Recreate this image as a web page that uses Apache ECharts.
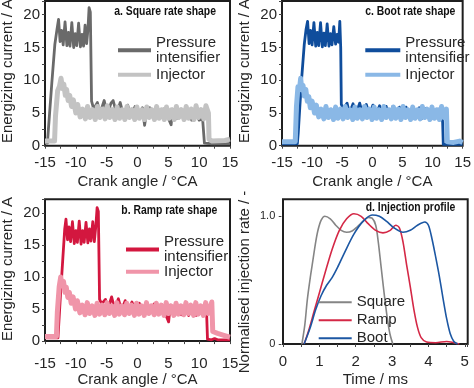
<!DOCTYPE html>
<html><head><meta charset="utf-8">
<script src="https://cdn.jsdelivr.net/npm/echarts@6/dist/echarts.min.js"></script>
<style>html,body{margin:0;padding:0;background:#fff}#c{width:474px;height:388px}</style>
</head><body><div id="c"></div>
<script>
// ---- Data ----
const crankTicks = [-15, -10, -5, 0, 5, 10, 15];
const currentTicks = [0, 5, 10, 15, 20];
const timeTicks = [0, 1, 2, 3, 4, 5];

// a. Square rate shape  [crank angle °CA, current A]
const squarePressure = [[-15,0.4],[-14.6,0.4],[-14.45,2.5],[-13.9,9.5],[-13.4,15.5],[-13.05,17.8],[-12.8,19.3],[-12.55,15.9],[-12.3,17.6],[-12.05,15.4],[-11.75,18.9],[-11.45,15.3],[-11.2,17.3],[-10.95,15.2],[-10.65,18.8],[-10.35,15.0],[-10.1,17.1],[-9.85,15.3],[-9.55,18.7],[-9.25,15.1],[-9.0,17.0],[-8.75,15.2],[-8.5,18.4],[-8.25,15.6],[-8.05,17.6],[-7.85,21.1],[-7.65,20.4],[-7.45,6.8],[-7.1,5.6],[-6.5,6.6],[-6.1,4.9],[-5.4,6.9],[-4.9,4.8],[-4.3,6.5],[-3.95,6.9],[-3.4,4.9],[-2.8,6.6],[-2.3,4.7],[-1.6,6.2],[-1.0,4.6],[-0.4,6.0],[0.2,4.5],[0.8,5.8],[1.15,3.1],[1.35,4.4],[2.0,5.8],[2.6,4.3],[3.2,5.8],[3.8,4.3],[4.4,5.7],[5.0,4.2],[5.45,3.2],[5.7,5.6],[6.4,4.2],[7.0,5.5],[7.6,4.0],[8.2,5.4],[8.8,3.9],[9.4,5.3],[10.0,3.9],[10.55,4.2],[10.7,3.9],[10.85,0.4],[12,0.3],[15,0.3]];
const squareInjector = [[-15,0.7],[-13.45,0.7],[-13.3,4.5],[-12.95,8.4],[-12.65,9.1],[-12.4,10.3],[-12.15,8.7],[-11.95,9.4],[-11.7,7.7],[-11.5,8.6],[-11.25,6.9],[-11.0,7.7],[-10.7,6.0],[-10.4,7.0],[-10.0,5.0],
  [-9.7,6.3],[-9.3,4.4],[-8.9,5.6],[-8.45,4.1],[-8.1,6.0],[-7.7,4.3],[-7.3,5.5],[-6.85,4.0],[-6.5,6.0],[-6.1,4.3],[-5.7,5.6],[-5.25,4.1],[-4.9,6.1],[-4.5,4.3],[-4.1,5.5],[-3.65,4.0],[-3.3,5.9],[-2.9,4.2],[-2.5,5.5],[-2.05,4.0],[-1.7,6.0],[-1.3,4.3],[-0.9,5.5],[-0.45,4.0],[-0.1,5.9],[0.3,4.2],[0.7,5.5],[1.15,4.0],[1.5,5.9],[1.9,4.3],[2.3,5.5],[2.75,4.0],[3.1,6.0],[3.5,4.2],[3.9,5.5],[4.35,4.0],[4.7,5.9],[5.1,4.2],[5.5,5.5],[5.95,4.0],[6.3,6.0],[6.7,4.3],[7.1,5.5],[7.55,4.0],[7.9,6.0],[8.3,4.2],[8.7,5.6],[9.15,4.0],[9.5,6.1],[9.9,4.3],[10.3,5.5],[10.75,4.1],[11.1,6.1],[11.5,5.0],[11.6,1.0],[12.1,0.7],[14.2,0.8],[15,1.0]];

// b. Ramp rate shape
const rampPressure = [[-15,0.5],[-12.9,0.5],[-12.5,7.0],[-12.1,13.0],[-11.8,17.5],[-11.6,19.0],[-11.35,15.8],[-11.1,17.8],[-10.85,15.5],[-10.55,18.6],[-10.25,15.2],[-10.0,17.2],[-9.75,15.4],[-9.45,18.7],[-9.15,15.1],[-8.9,17.2],[-8.65,15.4],[-8.35,18.5],[-8.05,15.3],[-7.8,17.5],[-7.55,15.6],[-7.25,18.6],[-7.0,15.5],[-6.75,18.0],[-6.55,20.8],[-6.35,20.2],[-6.15,6.5],[-5.8,5.8],[-5.2,6.5],[-4.8,5.0],[-4.2,6.9],[-3.7,5.0],[-3.1,6.6],[-2.6,4.8],[-2.0,6.3],[-1.5,4.7],[-0.9,6.1],[-0.3,4.6],[0.3,5.9],[0.9,4.5],[1.5,5.8],[2.1,4.4],[2.7,5.8],[3.3,4.3],[3.9,5.7],[4.5,4.3],[5.05,3.0],[5.3,5.6],[5.9,4.2],[6.5,5.6],[7.1,4.1],[7.7,5.5],[8.3,4.0],[8.9,5.5],[9.5,4.0],[10.1,5.4],[10.7,4.0],[11.2,4.6],[11.35,0.3],[12.0,0.2],[12.5,0.4],[13.0,0.2],[15,0.2]];
const rampInjector = [[-15,0.7],[-13.15,0.7],[-13.0,4.5],[-12.7,8.5],[-12.45,10.0],[-12.2,8.6],[-12.0,9.3],[-11.75,7.6],[-11.55,8.4],[-11.3,6.8],[-11.05,7.6],[-10.75,5.9],[-10.45,6.9],[-10.05,5.0],
  [-9.75,6.3],[-9.35,4.4],[-8.95,5.6],[-8.5,4.1],[-8.15,6.0],[-7.75,4.3],[-7.35,5.5],[-6.9,4.0],[-6.55,5.9],[-6.15,4.2],[-5.75,5.6],[-5.3,4.1],[-4.95,6.0],[-4.55,4.3],[-4.15,5.5],[-3.7,4.0],[-3.35,6.0],[-2.95,4.2],[-2.55,5.5],[-2.1,4.1],[-1.75,5.9],[-1.35,4.3],[-0.95,5.6],[-0.5,4.0],[-0.15,5.9],[0.25,4.2],[0.65,5.5],[1.1,4.0],[1.45,6.0],[1.85,4.3],[2.25,5.5],[2.7,4.1],[3.05,5.9],[3.45,4.2],[3.85,5.6],[4.3,4.0],[4.65,6.0],[5.05,4.3],[5.45,5.5],[5.9,4.0],[6.25,5.9],[6.65,4.2],[7.05,5.5],[7.5,4.1],[7.85,6.0],[8.25,4.3],[8.65,5.6],[9.1,4.0],[9.45,6.0],[9.85,4.2],[10.25,5.5],[10.7,4.0],[11.05,6.0],[11.45,4.3],[11.85,5.4],[12.05,6.1],[12.2,1.5],[13.0,1.2],[14.0,0.9],[15,0.6]];

// c. Boot rate shape
const bootPressure = [[-15,0.3],[-12.45,0.3],[-12.3,2.0],[-11.8,9.5],[-11.3,15.5],[-11.0,17.8],[-10.75,19.0],[-10.5,15.6],[-10.25,17.6],[-10.0,15.4],[-9.7,18.8],[-9.4,15.2],[-9.15,17.3],[-8.9,15.3],[-8.6,18.8],[-8.3,15.1],[-8.05,17.2],[-7.8,15.3],[-7.5,18.6],[-7.2,15.2],[-6.95,17.1],[-6.7,15.4],[-6.4,18.2],[-6.1,15.5],[-5.85,17.0],[-5.6,15.8],[-5.4,19.0],[-5.25,15.0],[-5.15,6.3],[-4.8,5.6],[-4.2,6.5],[-3.8,5.0],[-3.2,6.4],[-2.7,4.9],[-2.1,6.5],[-1.6,4.8],[-1.0,6.3],[-0.5,4.7],[0.1,6.2],[0.6,4.6],[1.2,6.1],[1.7,4.5],[2.3,6.0],[2.8,4.5],[3.4,6.0],[3.9,4.4],[4.5,5.9],[5.0,4.4],[5.6,5.9],[6.1,4.3],[6.7,5.8],[7.2,4.3],[7.8,5.8],[8.3,4.2],[8.9,5.7],[9.4,4.2],[10.0,5.7],[10.5,4.2],[11.1,5.6],[11.6,4.4],[11.68,3.5],[11.78,0.2],[15,0.2]];
const bootInjector = [[-15,0.6],[-12.8,0.6],[-12.6,6.0],[-12.35,9.0],[-12.1,8.6],[-11.9,10.3],[-11.7,8.5],[-11.5,9.2],[-11.3,7.6],[-11.05,8.6],[-10.8,6.8],[-10.55,7.5],[-10.3,5.8],[-10.0,6.8],[-9.6,5.0],
  [-9.3,6.2],[-8.9,4.4],[-8.5,5.6],[-8.05,4.1],[-7.7,6.0],[-7.3,4.3],[-6.9,5.5],[-6.45,4.0],[-6.1,5.9],[-5.7,4.2],[-5.3,5.6],[-4.85,4.1],[-4.5,6.0],[-4.1,4.3],[-3.7,5.5],[-3.25,4.0],[-2.9,5.9],[-2.5,4.2],[-2.1,5.5],[-1.65,4.1],[-1.3,6.0],[-0.9,4.3],[-0.5,5.6],[-0.05,4.0],[0.3,5.9],[0.7,4.2],[1.1,5.5],[1.55,4.0],[1.9,6.0],[2.3,4.3],[2.7,5.5],[3.15,4.1],[3.5,5.9],[3.9,4.2],[4.3,5.6],[4.75,4.0],[5.1,6.0],[5.5,4.3],[5.9,5.5],[6.35,4.0],[6.7,5.9],[7.1,4.2],[7.5,5.5],[7.95,4.1],[8.3,6.0],[8.7,4.3],[9.1,5.6],[9.55,4.0],[9.9,5.9],[10.3,4.2],[10.7,5.5],[11.15,4.0],[11.5,6.0],[11.9,4.3],[12.3,5.6],[12.45,0.6],[13.5,0.5],[14.5,0.7],[15,0.5]];

// d. Injection profile  [time ms, normalised rate]
const squareRate = [[0.52,0],[0.6,0.15],[0.67,0.35],[0.75,0.52],[0.82,0.65],[0.9,0.8],[0.97,0.9],[1.05,0.97],[1.15,1.0],[1.3,0.98],[1.45,0.93],[1.6,0.89],[1.75,0.875],[1.9,0.885],[2.05,0.92],[2.2,0.96],[2.35,0.99],[2.45,0.985],[2.55,0.93],[2.62,0.8],[2.7,0.6],[2.78,0.4],[2.86,0.22],[2.94,0.08],[3.02,0]];
const rampRate = [[0.58,0],[0.7,0.1],[0.85,0.25],[1.0,0.4],[1.15,0.55],[1.35,0.74],[1.55,0.89],[1.75,0.98],[1.95,1.02],[2.15,1.0],[2.35,0.94],[2.55,0.89],[2.75,0.87],[2.95,0.89],[3.1,0.93],[3.2,0.91],[3.3,0.8],[3.4,0.62],[3.5,0.45],[3.6,0.27],[3.7,0.13],[3.8,0.05],[3.95,0.015],[4.2,0.01],[4.5,0.02],[4.7,0.01],[4.85,0]];
const bootRate = [[0.58,0],[0.75,0.13],[0.9,0.27],[1.05,0.38],[1.2,0.46],[1.35,0.52],[1.5,0.6],[1.7,0.72],[1.95,0.86],[2.2,0.96],[2.45,1.01],[2.65,1.0],[2.85,0.96],[3.05,0.91],[3.3,0.875],[3.5,0.89],[3.7,0.93],[3.9,0.955],[4.0,0.93],[4.1,0.82],[4.2,0.68],[4.3,0.53],[4.4,0.36],[4.5,0.2],[4.6,0.08],[4.7,0.02],[4.8,0]];

const panelTitles = ['a. Square rate shape', 'b. Ramp rate shape', 'c. Boot rate shape', 'd. Injection profile'];
const legendLabels = {
  aPI: 'Pressure\nintensifier', aInj: 'Injector',
  bPI: 'Pressure\nintensifier', bInj: 'Injector',
  cPI: 'Pressure\nintensifier', cInj: 'Injector',
  dSq: 'Square', dRa: 'Ramp', dBo: 'Boot'
};

// ---- Styling / layout ----
const FONT = "Liberation Sans, Arial, Helvetica, sans-serif";
const TXT = '#262626';
const grids = [
  {left:45, top:1, width:185, height:144.7},
  {left:45, top:199.3, width:185, height:145},
  {left:282, top:1, width:186, height:144.7},
  {left:283, top:199.3, width:184.7, height:145}
];
const tick = {show:true, inside:false, length:3, lineStyle:{color:'#444', width:1}};
const minor = {show:true, splitNumber:2, length:3, lineStyle:{color:'#444', width:1}};
const noLine = {show:false, onZero:false};

function crankX(gi, margin) {
  return {gridIndex:gi, type:'value', min:crankTicks[0], max:crankTicks[crankTicks.length-1], interval:5,
    axisLine:noLine, axisTick:tick, minorTick:minor, splitLine:{show:false},
    axisLabel:{fontSize:15, color:TXT, margin:margin, fontFamily:FONT},
    name:'Crank angle / °CA', nameLocation:'middle', nameGap:29,
    nameTextStyle:{fontSize:15, color:TXT, fontFamily:FONT}};
}
function currentY(gi) {
  return {gridIndex:gi, type:'value', min:currentTicks[0], max:22.1, interval:5,
    axisLine:noLine, axisTick:tick, minorTick:minor, splitLine:{show:false},
    axisLabel:{fontSize:15, color:TXT, margin:5, fontFamily:FONT, showMaxLabel:false}};
}
function line(name, data, gi, color, width, smooth) {
  return {name:name, type:'line', xAxisIndex:gi, yAxisIndex:gi, data:data, showSymbol:false, symbol:'none',
    smooth:smooth || false, itemStyle:{color:color}, lineStyle:{color:color, width:width, join:'round'}, animation:false};
}
function legendAt(names, left, top, gap, w, h) {
  return {data:names, orient:'vertical', left:left, top:top, itemGap:gap, padding:0, icon:'rect',
    itemWidth:w, itemHeight:h, selectedMode:false,
    formatter: n => legendLabels[n],
    textStyle:{fontSize:15, lineHeight:14.5, color:TXT, fontFamily:FONT}};
}
function panelTitle(text, rightX, cy) {
  return {type:'text', x:rightX, y:cy, scaleX:0.8, silent:true,
    style:{text:text, fontSize:13, fontWeight:'bold', fontFamily:FONT, fill:'#111', align:'right', verticalAlign:'middle'}};
}
function yTitle(text, x, y) {
  return {type:'text', x:x, y:y, rotation:Math.PI/2, silent:true,
    style:{text:text, fontSize:15, fontFamily:FONT, fill:TXT, align:'center', verticalAlign:'middle'}};
}

const option = {
  animation:false,
  grid: grids.map(g => Object.assign({show:true, borderColor:'#1e1e1e', borderWidth:2, backgroundColor:'transparent', containLabel:false}, g)),
  xAxis: [
    crankX(0, 9.5), crankX(1, 15), crankX(2, 9.5),
    {gridIndex:3, type:'value', min:timeTicks[0], max:5.08, interval:1,
      axisLine:noLine, axisTick:tick, minorTick:minor, splitLine:{show:false},
      axisLabel:{fontSize:15, color:TXT, margin:10, fontFamily:FONT, showMaxLabel:false},
      name:'Time / ms', nameLocation:'middle', nameGap:28,
      nameTextStyle:{fontSize:15, color:TXT, fontFamily:FONT}}
  ],
  yAxis: [
    currentY(0), currentY(1), currentY(2),
    {gridIndex:3, type:'value', min:0, max:1.133, interval:0.5,
      axisLine:noLine, axisTick:{show:false}, splitLine:{show:false},
      axisLabel:{fontSize:11, color:TXT, margin:1, fontFamily:FONT, showMaxLabel:false,
        formatter: v => (v === 0 ? '0 -' : (v === 1 ? '1.0 -' : ''))}}
  ],
  legend: [
    legendAt(['aPI','aInj'], 118, 35.5, 2.25, 33, 4),
    legendAt(['bPI','bInj'], 126, 234.8, 0, 33, 4),
    legendAt(['cPI','cInj'], 365.3, 35.5, 2.25, 35, 4),
    legendAt(['dSq','dRa','dBo'], 318.7, 294.8, 3, 33, 2)
  ],
  graphic: [
    yTitle('Energizing current / A', 7.5, 71),
    yTitle('Energizing current / A', 7.5, 269),
    yTitle('Energizing current / A', 244.5, 71),
    yTitle('Normalised injection rate / -', 244.5, 282),
    panelTitle(panelTitles[0], 216, 11),
    panelTitle(panelTitles[1], 217.3, 210),
    panelTitle(panelTitles[2], 455.3, 11),
    panelTitle(panelTitles[3], 455.3, 207.3)
  ],
  series: [
    line('aPI', squarePressure, 0, '#6a6a6a', 2.8),
    line('aInj', squareInjector, 0, '#c3c3c3', 5),
    line('bPI', rampPressure, 1, '#d3173f', 2.8),
    line('bInj', rampInjector, 1, '#f095a9', 5),
    line('cPI', bootPressure, 2, '#0f4d9c', 2.8),
    line('cInj', bootInjector, 2, '#8ab8e6', 5),
    line('dSq', squareRate, 3, '#858585', 1.6, 0.3),
    line('dRa', rampRate, 3, '#d42846', 1.6, 0.3),
    line('dBo', bootRate, 3, '#1c57a3', 1.6, 0.3)
  ]
};
const chart = echarts.init(document.getElementById('c'), null, {renderer:'canvas'});
chart.setOption(option);
</script></body></html>
